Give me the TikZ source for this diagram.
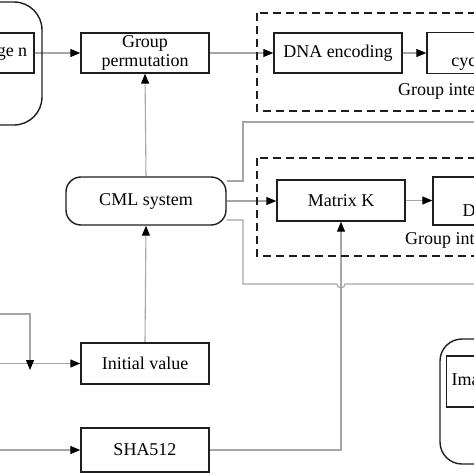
\documentclass[tikz,border=0pt]{standalone}
\usepackage{fontspec}
\setmainfont{Liberation Serif}
\usetikzlibrary{arrows.meta,backgrounds}
\definecolor{conn}{HTML}{A6A6A6}
\definecolor{ink}{HTML}{1E1E1E}
\tikzset{
  box/.style={draw=ink,line width=1.4pt,fill=white,rectangle,minimum width=128pt,minimum height=41pt,inner sep=0pt,align=center,font=\fontsize{18}{19.5}\selectfont},
  rbox/.style={box,rounded corners=15pt},
  conline/.style={draw=conn,line width=1.1pt},
  arr/.style={conline,-{Triangle[length=10pt,width=8pt,fill=black,color=black]}},
  grp/.style={draw=ink,line width=1.3pt,dash pattern=on 8pt off 5pt},
  lbl/.style={anchor=west,inner sep=0pt,font=\fontsize{18}{20}\selectfont},
  outer/.style={draw=ink,line width=1.4pt}
}
\begin{document}
\begin{tikzpicture}[x=1pt,y=-1pt]
\useasboundingbox (0,0) rectangle (474,474);
% outer rounded containers
\draw[outer,rounded corners=28pt] (-100,2) rectangle (42,125);
\draw[outer,rounded corners=22pt] (440,339) rectangle (560,464);
% dashed groups
\draw[grp] (257,13) rectangle (600,111);
\draw[grp] (257,158) rectangle (600,256);
\node[lbl] (lab1) at (398,91) {Group internal diffusion};
\node[lbl] (lab2) at (405,240) {Group internal scrambling};
% nodes
\node[box,minimum width=72pt,minimum height=40pt] (imgn) at (-2,53) {Image n};
\node[box,minimum height=40pt] (gp) at (145,53) {Group\\permutation};
\node[box,minimum height=40pt] (dna) at (338,53) {DNA encoding};
\node[box,minimum height=41pt] (cyc) at (491,53) {Bit\\cyclic shift};
\node[rbox,minimum width=160pt,minimum height=48pt] (cml) at (146,201) {CML system};
\node[box] (mk) at (341,200.5) {Matrix K};
\node[box,minimum height=48pt] (dif) at (497,201) {DNA\\Diffusion};
\node[box] (iv) at (145,363.5) {Initial value};
\node[box,minimum height=44pt] (sha) at (145,450) {SHA512};
\node[box,minimum width=100pt,minimum height=51pt,anchor=west,text width=90pt,align=left] (imgb) at (446,381.5) {Image n};
% free ends
\coordinate (inA) at (0,314);
\coordinate (inB) at (0,363.5);
\coordinate (inC) at (0,450);
\coordinate (knee) at (30,314);
\coordinate (drop) at (30,370);
\coordinate (upR) at (490,122);
\coordinate (loR) at (490,284);
\begin{scope}[on background layer]
\draw[arr] (imgn.east) -- (gp.west);
\draw[arr] (gp.east) -- (dna.west);
\draw[arr] (dna.east) -- (cyc.west);
\draw[arr] (cml.north) -- (gp.south);
\draw[arr] (iv.north) -- (cml.south);
\draw[arr] (cml.east) -- (mk.west |- cml.east);
\draw[arr] (mk.east) -- (dif.west |- mk.east);
\draw[conline] ([yshift=20pt]cml.east) -- (243,181) -- (243,122) -- (upR);
\draw[conline] ([yshift=-19pt]cml.east) -- (243,220) -- (243,284) -- (337,284) arc (180:0:4) -- (loR);
\draw[arr] (sha.east) -| (mk.south);
\draw[arr] (inC) -- (sha.west);
\draw[arr] (inB) -- (iv.west);
\draw[arr] (inA) -- (knee) -- (drop);
\end{scope}
\end{tikzpicture}
\end{document}
